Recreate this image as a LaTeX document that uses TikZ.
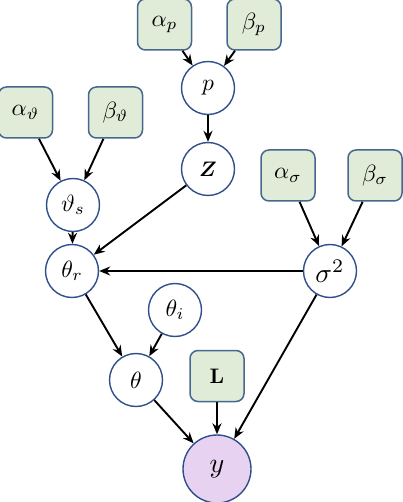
\documentclass[tikz,border=0pt]{standalone}
\usepackage{graphicx}
\usepackage{amsmath,bm}
\usetikzlibrary{arrows.meta}
\definecolor{boxfill}{HTML}{E0EBD8}
\definecolor{boxdraw}{HTML}{46688F}
\definecolor{circdraw}{HTML}{2F4F8A}
\definecolor{yfill}{HTML}{E8D2F2}
\newcommand{\lbl}[2][2.35]{\scalebox{#1}{$#2$}}
\begin{document}
\begin{tikzpicture}[x=1pt,y=-1pt,
  prior/.style={draw=boxdraw,fill=boxfill,line width=1.5pt,rounded corners=8pt,minimum width=54pt,minimum height=51pt,inner sep=0pt},
  latent/.style={draw=circdraw,fill=white,line width=1.4pt,circle,minimum size=53pt,inner sep=0pt},
  obs/.style={latent,fill=yfill,minimum size=68pt},
  arr/.style={-{Stealth[length=11pt,width=9pt]},line width=1.9pt,black}]
\useasboundingbox (0,0) rectangle (403,502);
% priors
\node[prior] (ap) at (164.5,24.5) {\lbl{\alpha_p}};
\node[prior] (bp) at (254,24.5) {\lbl{\beta_p}};
\node[prior] (at) at (25.5,112.5) {\lbl{\alpha_\vartheta}};
\node[prior] (bt) at (115.5,112.5) {\lbl{\beta_\vartheta}};
\node[prior] (as) at (288,175.5) {\lbl{\alpha_\sigma}};
\node[prior] (bs) at (375,175.5) {\lbl{\beta_\sigma}};
\node[prior] (L) at (217,376) {\lbl[2.1]{\mathbf{L}}};
% latent
\node[latent] (p) at (208,88) {\lbl{p}};
\node[latent] (Z) at (208,169) {\lbl[2.1]{\bm{Z}}};
\node[latent] (ts) at (73,205) {\lbl{\vartheta_s}};
\node[latent] (tr) at (72,271) {\lbl{\theta_r}};
\node[latent] (s2) at (330,271) {\lbl[2.75]{\sigma^2}};
\node[latent] (ti) at (175,310) {\lbl{\theta_i}};
\node[latent] (th) at (136,380) {\lbl{\theta}};
\node[obs] (y) at (217,469) {\lbl[2.8]{y}};
% edges
\draw[arr] (ap) -- (p);
\draw[arr] (bp) -- (p);
\draw[arr] (p) -- (Z);
\draw[arr] (at) -- (ts);
\draw[arr] (bt) -- (ts);
\draw[arr] (ts) -- (tr);
\draw[arr] (Z) -- (tr);
\draw[arr] (as) -- (s2);
\draw[arr] (bs) -- (s2);
\draw[arr] (s2) -- (tr);
\draw[arr] (tr) -- (th);
\draw[arr] (ti) -- (th);
\draw[arr] (th) -- (y);
\draw[arr] (L) -- (y);
\draw[arr] (s2) -- (y);
\end{tikzpicture}
\end{document}
